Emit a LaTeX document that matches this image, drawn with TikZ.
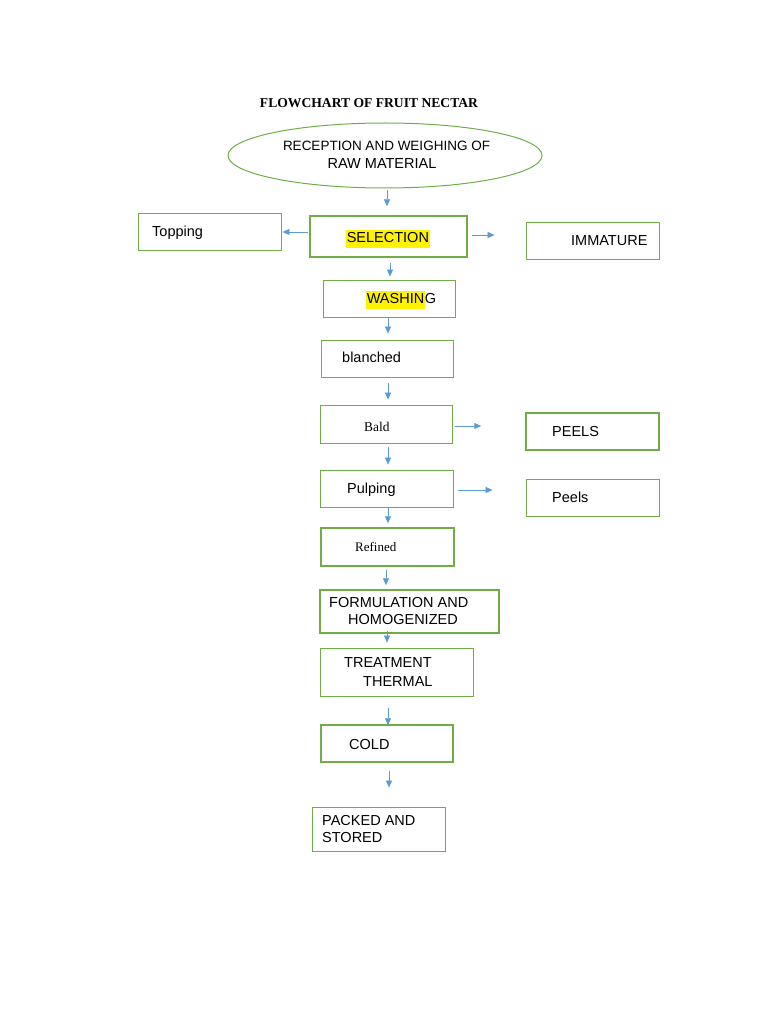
\documentclass[tikz,border=0pt]{standalone}
\usepackage{fontspec}
\setmainfont{Liberation Serif}
\setsansfont{Liberation Sans}
\usetikzlibrary{
    arrows.meta,
    shapes.geometric,
    positioning
}
\definecolor{stepgreen}{RGB}{112,173,71}
\definecolor{flowblue}{RGB}{91,155,213}
\tikzset{
    stagebox/.style={draw=stepgreen, line width=0.8pt, inner sep=0pt},
    thickbox/.style={stagebox, line width=1.4pt},
    stagetext/.style={anchor=base west, inner sep=0pt, font=\sffamily\fontsize{14.5}{17}\selectfont},
    serftext/.style={anchor=base west, inner sep=0pt, font=\rmfamily\fontsize{13.4}{16}\selectfont},
    flow/.style={draw=flowblue, line width=0.7pt, -{Triangle[length=7pt, width=6pt]}}
}
\newcommand{\hilite}[1]{{\setlength{\fboxsep}{0.6pt}\colorbox{yellow}{\strut #1}}}

\begin{document}
\begin{tikzpicture}[x=1pt, y=-1pt]
    \useasboundingbox (0,0) rectangle (768,1024);
    \node[font=\rmfamily\bfseries\fontsize{13.6}{16}\selectfont, anchor=base, inner sep=0pt] (title) at (369,108) {FLOWCHART OF FRUIT NECTAR};
    \node[stagebox, line width=1pt, ellipse, minimum width=314, minimum height=65] (recep) at (385,155.5) {};
    \node[stagebox, minimum width=143, minimum height=37] (top) at (209.5,231.5) {};
    \node[thickbox, minimum width=157, minimum height=41] (sel) at (388.5,236.5) {};
    \node[stagebox, minimum width=133, minimum height=37] (imm) at (592.5,240.5) {};
    \node[stagebox, minimum width=132, minimum height=37] (wash) at (389,298.5) {};
    \node[stagebox, minimum width=132, minimum height=37] (blan) at (387,358.5) {};
    \node[stagebox, minimum width=132, minimum height=38] (bald) at (386,424) {};
    \node[thickbox, minimum width=133, minimum height=37] (peelA) at (592.5,431.5) {};
    \node[stagebox, minimum width=133, minimum height=37] (pulp) at (386.5,488.5) {};
    \node[stagebox, minimum width=133, minimum height=37] (peelB) at (592.5,497.5) {};
    \node[thickbox, minimum width=133, minimum height=38] (refn) at (387.5,547) {};
    \node[thickbox, minimum width=179, minimum height=43] (form) at (409.5,611.5) {};
    \node[stagebox, minimum width=153, minimum height=48] (treat) at (396.5,672) {};
    \node[thickbox, minimum width=132, minimum height=37] (cold) at (387,743.5) {};
    \node[stagebox, minimum width=133, minimum height=44] (pack) at (378.5,829) {};
    \node[stagetext, font=\sffamily\fontsize{13.5}{16}\selectfont, anchor=base] (recepA) at (386.5,150.5) {RECEPTION AND WEIGHING OF};
    \node[stagetext, anchor=base] (recepB) at (382,168.5) {RAW MATERIAL};
    \node[stagetext] (topT) at (152,236.5) {Topping};
    \node[stagetext] (selT) at (346,242.5) {\hilite{SELECTION}};
    \node[stagetext] (immT) at (571,245.5) {IMMATURE};
    \node[stagetext] (washT) at (366,303.5) {\hilite{WASHIN}G};
    \node[stagetext] (blanT) at (342,362.5) {blanched};
    \node[serftext] (baldT) at (364,431) {Bald};
    \node[stagetext] (peelAT) at (552,436.5) {PEELS};
    \node[stagetext] (pulpT) at (347,493.5) {Pulping};
    \node[stagetext] (peelBT) at (552,502.5) {Peels};
    \node[serftext, font=\rmfamily\fontsize{13}{16}\selectfont] (refnT) at (355,551) {Refined};
    \node[stagetext] (formA) at (329,607.5) {FORMULATION AND};
    \node[stagetext] (formB) at (348,624.5) {HOMOGENIZED};
    \node[stagetext] (treatA) at (344,667.5) {TREATMENT};
    \node[stagetext] (treatB) at (363,686.5) {THERMAL};
    \node[stagetext] (coldT) at (349,749.5) {COLD};
    \node[stagetext] (packA) at (322,825.5) {PACKED AND};
    \node[stagetext] (packB) at (322,842.5) {STORED};
    \draw[flow, shorten <=2pt, shorten >=9pt] (recep.south -| 387,0) -- (sel.north -| 387,0);
    \draw[flow, shorten <=1pt, shorten >=1pt] (sel.west |- 0,232) -- (top.east |- 0,232);
    \draw[flow, shorten <=4pt, shorten >=31pt] (sel.east |- 0,235) -- (imm.west |- 0,235);
    \draw[flow, shorten <=5pt, shorten >=3pt] (sel.south -| 390,0) -- (wash.north -| 390,0);
    \draw[flow, shorten <=1pt, shorten >=6pt] (wash.south -| 388,0) -- (blan.north -| 388,0);
    \draw[flow, shorten <=6pt, shorten >=5pt] (blan.south -| 388,0) -- (bald.north -| 388,0);
    \draw[flow, shorten <=3pt, shorten >=44pt] (bald.east |- 0,426) -- (peelA.west |- 0,426);
    \draw[flow, shorten <=4pt, shorten >=5pt] (bald.south -| 388,0) -- (pulp.north -| 388,0);
    \draw[flow, shorten <=5pt, shorten >=33pt] (pulp.east |- 0,490) -- (peelB.west |- 0,490);
    \draw[flow, shorten <=1pt, shorten >=4pt] (pulp.south -| 388,0) -- (refn.north -| 388,0);
    \draw[flow, shorten <=3pt, shorten >=4pt] (refn.south -| 386,0) -- (form.north -| 386,0);
    \draw[flow, shorten <=-3pt, shorten >=5pt] (form.south -| 387,0) -- (treat.north -| 387,0);
    \draw[flow, shorten <=12pt, shorten >=-1pt] (treat.south -| 388,0) -- (cold.north -| 388,0);
    \draw[flow, shorten <=8pt, shorten >=19pt] (cold.south -| 389,0) -- (pack.north -| 389,0);
\end{tikzpicture}
\end{document}
